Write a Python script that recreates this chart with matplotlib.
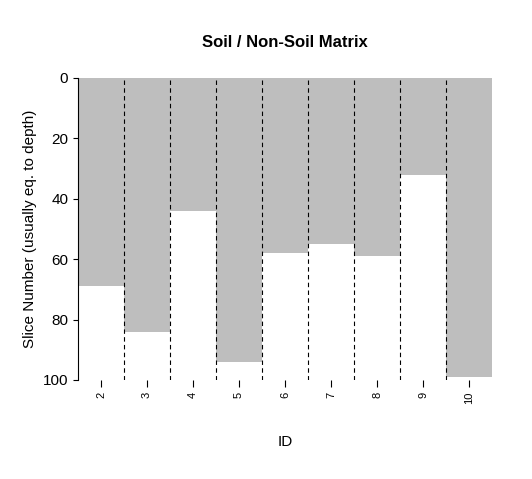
import matplotlib
matplotlib.use("Agg")
import matplotlib.pyplot as plt

ids = ["2", "3", "4", "5", "6", "7", "8", "9", "10"]
soil_depth = [69, 84, 44, 94, 58, 55, 59, 32, 99]
yticks = [0, 20, 40, 60, 80, 100]

plt.rcParams['font.family'] = ['Liberation Sans', 'DejaVu Sans']
fig = plt.figure(figsize=(5.32, 4.79), dpi=100)
ax = fig.add_axes([0.1466, 0.2067, 0.7784, 0.6305])
x = list(range(len(ids)))
ax.bar(x, soil_depth, width=1.0, bottom=0, color="#bebebe", edgecolor="none")
for i in range(1, len(ids)):
    ax.axvline(i - 0.5, color="black", linestyle=(0, (4, 3)), linewidth=0.8)
ax.set_xlim(-0.5, len(ids) - 0.5)
ax.set_ylim(100, 0)
for s in ["top", "right", "bottom"]:
    ax.spines[s].set_visible(False)
ax.spines["left"].set_bounds(0, 100)
ax.set_yticks(yticks)
ax.tick_params(axis="y", labelsize=11)
ax.set_xticks(x)
ax.set_xticklabels(ids, rotation=90, fontsize=8)
ax.tick_params(axis="x", length=5)
ax.set_xlabel("ID", fontsize=11, labelpad=22)
ax.set_ylabel("Slice Number (usually eq. to depth)", fontsize=11)
ax.set_title("Soil / Non-Soil Matrix", fontsize=12, fontweight="bold", pad=22)
fig.savefig("out.png", dpi=100)
